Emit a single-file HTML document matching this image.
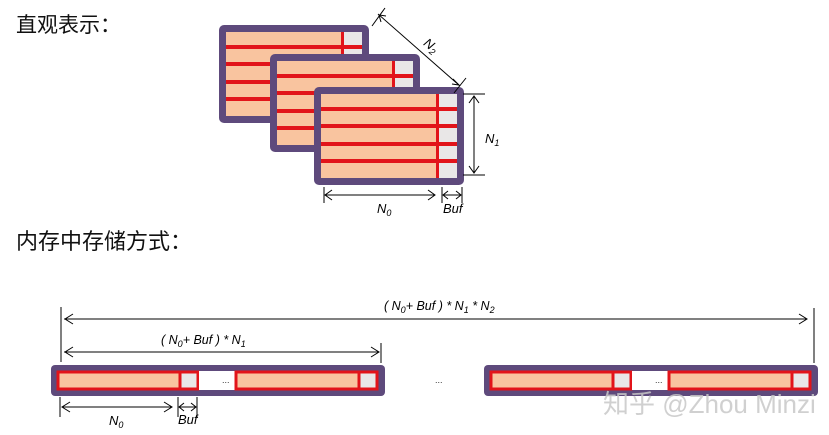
<!DOCTYPE html>
<html><head><meta charset="utf-8"><style>
html,body{margin:0;padding:0;background:#fff;}
svg{display:block;}
text{font-family:"Liberation Sans","Noto Sans CJK SC",sans-serif;}
</style></head><body>
<svg width="829" height="435" viewBox="0 0 829 435" xmlns="http://www.w3.org/2000/svg">
<defs>
<g id="plate">
<rect x="0" y="0" width="150" height="98" rx="5" fill="#5e4a7c"/>
<rect x="7" y="7" width="136" height="84" fill="#f9c49f"/>
<rect x="124" y="7" width="19" height="84" fill="#e9e7e7"/>
<rect x="122" y="7" width="3" height="84" fill="#e2141a"/>
<rect x="7" y="20" width="136" height="4" fill="#e2141a"/>
<rect x="7" y="37" width="136" height="4" fill="#e2141a"/>
<rect x="7" y="55" width="136" height="4" fill="#e2141a"/>
<rect x="7" y="72" width="136" height="4" fill="#e2141a"/>
</g>
<g id="bar">
<rect x="0" y="0" width="334" height="31" rx="4" fill="#5e4a7c"/>
<rect x="7" y="7" width="122" height="17" fill="#f9c49f" stroke="#e2141a" stroke-width="3"/>
<rect x="129" y="7" width="18" height="17" fill="#e9e7e7" stroke="#e2141a" stroke-width="3"/>
<rect x="148" y="6" width="36" height="19" fill="#fff"/>
<rect x="185" y="7" width="123" height="17" fill="#f9c49f" stroke="#e2141a" stroke-width="3"/>
<rect x="308" y="7" width="18" height="17" fill="#e9e7e7" stroke="#e2141a" stroke-width="3"/>
</g>
</defs>
<text x="16" y="32" font-size="21" fill="#111">直观表示：</text>
<text x="16" y="249" font-size="22" fill="#111">内存中存储方式：</text>

<use href="#plate" x="219" y="25"/>
<use href="#plate" x="270" y="54"/>
<use href="#plate" x="314" y="87"/>

<g stroke="#000" stroke-width="1" fill="none">
<line x1="378" y1="14" x2="460" y2="86"/>
<line x1="372" y1="26" x2="385" y2="8"/>
<line x1="454" y1="93" x2="466" y2="78"/>
<polyline points="386,16 379,15 381,22"/>
<polyline points="453,79 459,85 452,84"/>
<line x1="463" y1="94" x2="485" y2="94"/>
<line x1="463" y1="175" x2="485" y2="175"/>
<line x1="474" y1="96" x2="474" y2="173"/>
<polyline points="469,103 474,96 479,103"/>
<polyline points="469,166 474,173 479,166"/>
<line x1="324" y1="187" x2="324" y2="203"/>
<line x1="442" y1="187" x2="442" y2="203"/>
<line x1="462" y1="187" x2="462" y2="203"/>
<line x1="325" y1="195" x2="435" y2="195"/>
<polyline points="332,190 325,195 332,200"/>
<polyline points="428,190 435,195 428,200"/>
<line x1="443" y1="195" x2="461" y2="195"/>
<polyline points="448,191 443,195 448,199"/>
<polyline points="456,191 461,195 456,199"/>
</g>
<text x="424" y="49" font-size="13" font-style="italic" transform="rotate(38 430 45)">N<tspan font-size="9" dy="3">2</tspan></text>
<text x="485" y="143" font-size="13" font-style="italic">N<tspan font-size="9" dy="3">1</tspan></text>
<text x="377" y="213" font-size="13" font-style="italic">N<tspan font-size="9" dy="3">0</tspan></text>
<text x="443" y="213" font-size="13" font-style="italic">Buf</text>

<use href="#bar" x="51" y="365"/>
<use href="#bar" x="484" y="365"/>
<text x="222" y="383" font-size="9" fill="#333">...</text>
<text x="655" y="383" font-size="9" fill="#333">...</text>
<text x="435" y="383" font-size="9" fill="#333">...</text>

<g stroke="#000" stroke-width="1" fill="none">
<line x1="61" y1="307" x2="61" y2="362"/>
<line x1="814" y1="308" x2="814" y2="363"/>
<line x1="64" y1="319" x2="807" y2="319"/>
<polyline points="73,314 65,319 73,324"/>
<polyline points="799,314 807,319 799,324"/>
<line x1="381" y1="343" x2="381" y2="363"/>
<line x1="64" y1="352" x2="379" y2="352"/>
<polyline points="73,347 65,352 73,357"/>
<polyline points="371,347 379,352 371,357"/>
<line x1="60" y1="397" x2="60" y2="417"/>
<line x1="178" y1="397" x2="178" y2="417"/>
<line x1="197" y1="397" x2="197" y2="417"/>
<line x1="62" y1="407" x2="172" y2="407"/>
<polyline points="70,402 62,407 70,412"/>
<polyline points="164,402 172,407 164,412"/>
<line x1="179" y1="407" x2="196" y2="407"/>
<polyline points="184,403 179,407 184,411"/>
<polyline points="191,403 196,407 191,411"/>
</g>
<text x="384" y="310" font-size="12.5" font-style="italic">( N<tspan font-size="9" dy="3">0</tspan><tspan dy="-3">+ Buf ) * N</tspan><tspan font-size="9" dy="3">1</tspan><tspan dy="-3"> * N</tspan><tspan font-size="9" dy="3">2</tspan></text>
<text x="161" y="344" font-size="12.5" font-style="italic">( N<tspan font-size="9" dy="3">0</tspan><tspan dy="-3">+ Buf ) * N</tspan><tspan font-size="9" dy="3">1</tspan></text>
<text x="109" y="425" font-size="13" font-style="italic">N<tspan font-size="9" dy="3">0</tspan></text>
<text x="178" y="424" font-size="13" font-style="italic">Buf</text>

<text x="603" y="413" font-size="26" fill="#c8c8c8" fill-opacity="0.85">知乎 @Zhou Minzi</text>
</svg>
</body></html>
